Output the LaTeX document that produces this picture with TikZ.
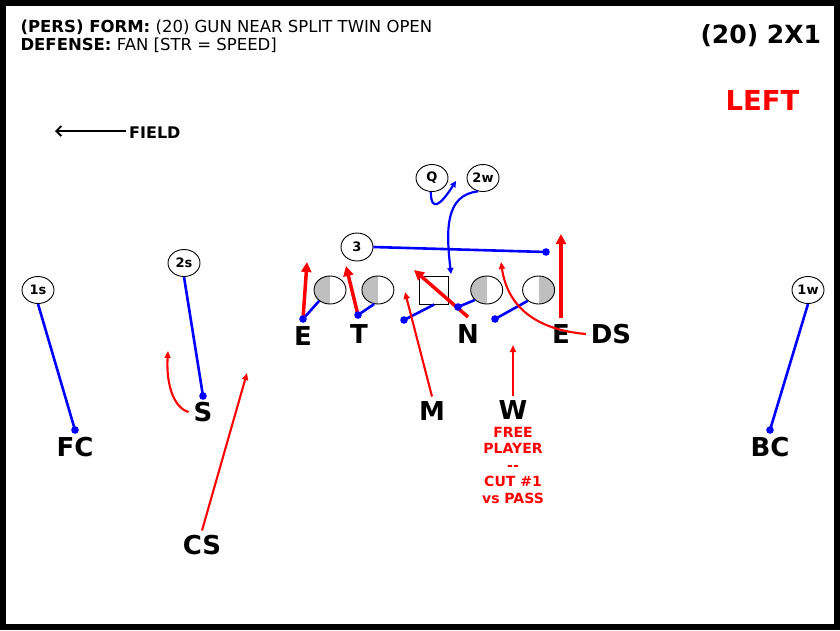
\documentclass[tikz,border=0pt]{standalone}
\usepackage{fontspec}
\setmainfont{DejaVu Sans}
\usetikzlibrary{positioning}
\usetikzlibrary{arrows.meta}
\usetikzlibrary{shapes.geometric}

\tikzset{
  off/.style={ellipse,draw,line width=0.9pt,fill=white,minimum width=32pt,minimum height=27pt,inner sep=0pt,font=\bfseries\fontsize{13}{13}\selectfont},
  linl/.style={ellipse,draw,line width=0.9pt,minimum width=32pt,minimum height=28pt,inner sep=0pt,
    path picture={\fill[gray!50] (path picture bounding box.south west) rectangle (path picture bounding box.north);}},
  linr/.style={ellipse,draw,line width=0.9pt,minimum width=32pt,minimum height=28pt,inner sep=0pt,
    path picture={\fill[gray!50] (path picture bounding box.south) rectangle (path picture bounding box.north east);}},
  ctrbox/.style={rectangle,draw,line width=0.9pt,minimum width=29pt,minimum height=28pt,inner sep=0pt},
  def/.style={inner sep=0pt,outer sep=5pt,text height=19pt,text depth=0pt,font=\bfseries\fontsize{26}{26}\selectfont},
  blk/.style={blue,line width=2.6pt},
  blkarr/.style={blue,line width=2.2pt,-{Triangle[length=6pt,width=6pt]}},
  rush/.style={red,line width=3.5pt,-{Triangle[length=10pt,width=10pt]}},
  cov/.style={red,line width=2.1pt,-{Triangle[length=7pt,width=6pt]}},
}

\begin{document}
\begin{tikzpicture}[x=1pt,y=-1pt]
\useasboundingbox (0,0) rectangle (840,630);
\draw[line width=6pt] (3,3) rectangle (837,627);

% header
\node[anchor=base west,font=\fontsize{16.5}{16.5}\selectfont] (form) at (17,32) {\textbf{(PERS) FORM:} (20) GUN NEAR SPLIT TWIN OPEN};
\node[anchor=base west,font=\fontsize{16.5}{16.5}\selectfont] (dfns) at (17,50) {\textbf{DEFENSE:} FAN [STR = SPEED]};
\node[anchor=base west,font=\bfseries\fontsize{25}{25}\selectfont] (title) at (697,43) {(20) 2X1};
\node[anchor=base west,red,font=\bfseries\fontsize{27.5}{27.5}\selectfont] (side) at (722,110) {LEFT};
\node[anchor=base west,inner sep=0pt,font=\bfseries\fontsize{16}{16}\selectfont] (field) at (129,138) {FIELD};
\coordinate (fieldtail) at (126,131);
\coordinate (fieldend) at (55,131);
\draw[line width=1.8pt,-{Straight Barb[length=5pt,width=10pt]}] (fieldtail) -- (fieldend);

% offense
\node[off] (s1) at (38,290) {1s};
\node[off] (s2) at (184,263) {2s};
\node[off,minimum height=28pt] (s3) at (357,247) {3};
\node[off] (qb) at (432,178) {Q};
\node[off] (w2) at (483,178) {2w};
\node[off] (w1) at (808,290) {1w};

\node[linl] (lt) at (330,290) {};
\node[linl,right=15pt of lt] (lg) {};
\node[ctrbox,right=25pt of lg] (ctr) {};
\node[linl,right=21pt of ctr] (rg) {};
\node[linr,right=19pt of rg] (rt) {};

% defense
\node[def] (E1) at (303,336) {E};
\node[def] (T) at (359,334) {T};
\node[def] (N) at (468,334) {N};
\node[def] (E2) at (561,334) {E};
\node[def] (DS) at (611,334) {DS};
\node[def] (M) at (432,411) {M};
\node[def] (W) at (513,410) {W};
\node[def] (S) at (203,412) {S};
\node[def] (FC) at (75,447) {FC};
\node[def] (BC) at (770,447) {BC};
\node[def] (CS) at (202,545) {CS};
\node[anchor=north,align=center,red,inner sep=0pt,font=\bfseries\fontsize{14}{16.5}\selectfont] (note) at (513,427) {FREE\\PLAYER\\-{}-\\CUT \#1\\vs PASS};

% block points
\coordinate (bE) at (303,319);
\coordinate (bT) at (358,315);
\coordinate (bC) at (404,320);
\coordinate (bG) at (458,307);
\coordinate (bR) at (495,319);
\coordinate (b3) at (546,252);
\coordinate (b1s) at (75,430);
\coordinate (b2s) at (203,396);
\coordinate (b1w) at (770,430);
\coordinate (qend) at (456,181);
\coordinate (wend) at (451,274);

% rush points
\coordinate (nN) at (468,317);
\coordinate (nE2) at (561,318);
\coordinate (rE) at (307,262);
\coordinate (rT) at (346,266);
\coordinate (rN) at (414,270);
\coordinate (rE2) at (561,234);
\coordinate (rDS) at (501,262);
\coordinate (rM) at (405,292);
\coordinate (rW) at (513,345);
\coordinate (rS) at (168,351);
\coordinate (rCS) at (247,373);

\draw[blk] (lt.225) -- (bE);
\draw[blk] (lg.255) -- (bT);
\draw[blk] (ctr.south) -- (bC);
\draw[blk] (rg.220) -- (bG);
\draw[blk] (rt.225) -- (bR);
\draw[blk] (s3.east) -- (b3);
\draw[blk] (s1.south) -- (b1s);
\draw[blk] (s2.south) -- (b2s);
\draw[blk] (w1.south) -- (b1w);
\draw[blkarr] (w2.250) .. controls (445,195) and (446,230) .. (wend);
\draw[blkarr] (qb.265) .. controls (431,212) and (440,206) .. (qend);

\draw[rush] (bE) -- (rE);
\draw[rush] (bT) -- (rT);
\draw[rush] (nN) -- (rN);
\draw[rush] (nE2) -- (rE2);
\draw[cov] (DS.west) .. controls (540,330) and (508,310) .. (rDS);
\draw[cov] (M.north) -- (rM);
\draw[cov] (W.north) -- (rW);
\draw[cov] (S.west) .. controls (174,408) and (166,385) .. (rS);
\draw[cov] (CS.north) -- (rCS);

\foreach \p in {bE,bT,bC,bG,bR,b3,b1s,b2s,b1w}
  \fill[blue] (\p) circle (3.8pt);
\end{tikzpicture}
\end{document}
